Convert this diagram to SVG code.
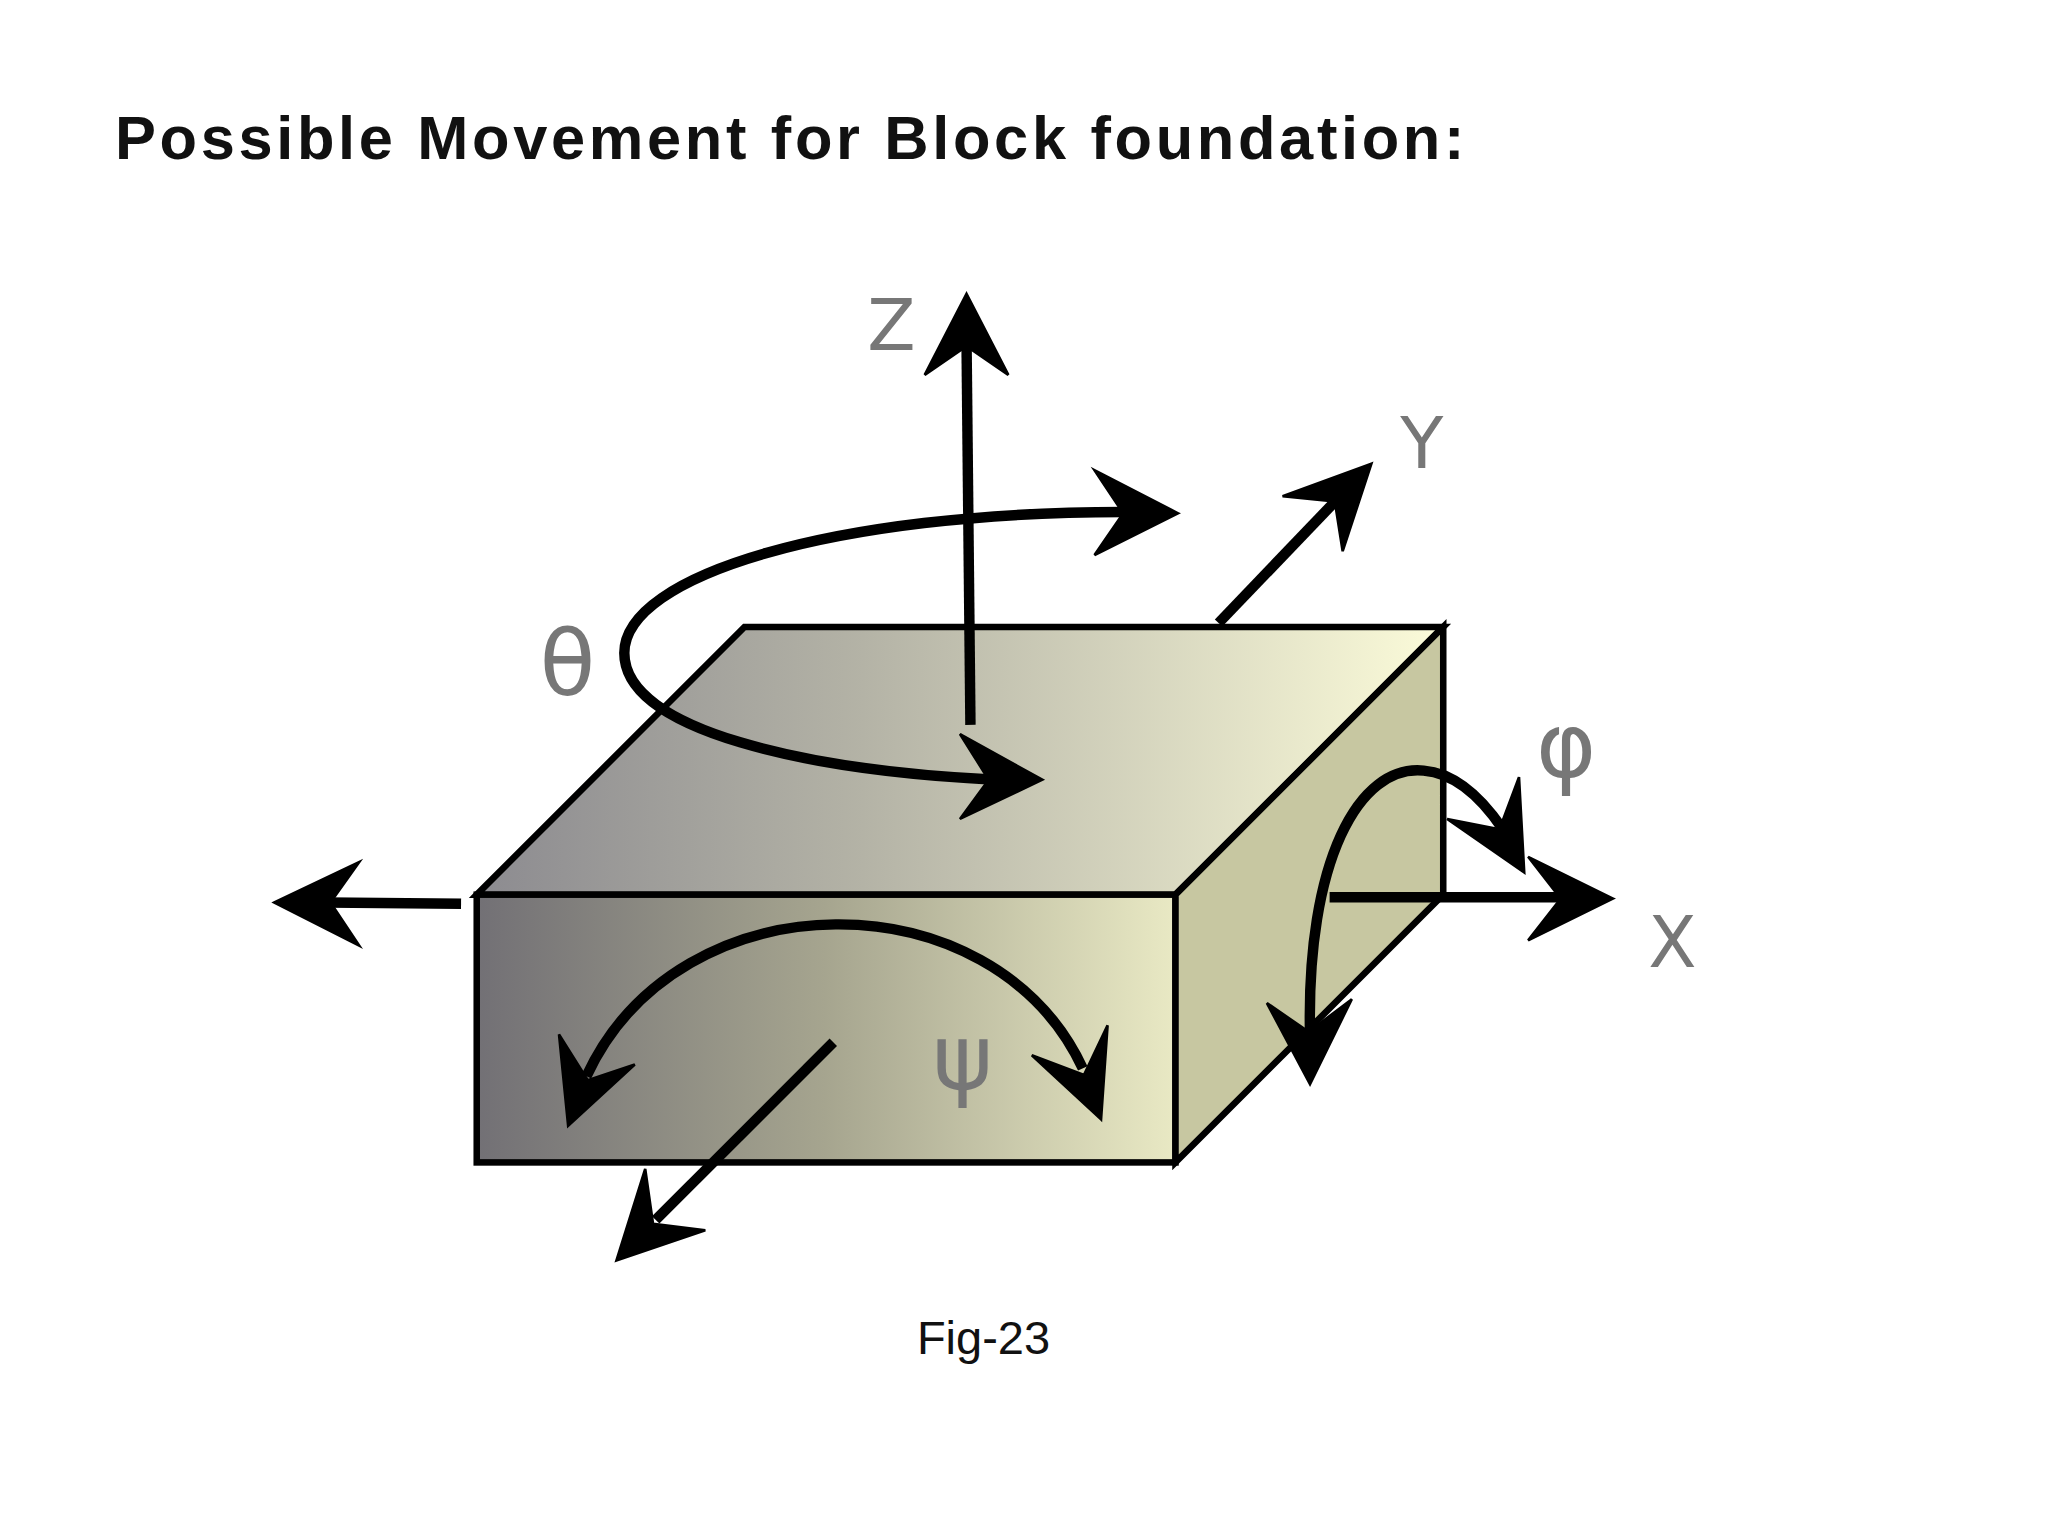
<svg xmlns="http://www.w3.org/2000/svg" width="2048" height="1536" viewBox="0 0 2048 1536">
<style>
.ln{fill:none;stroke:#000;stroke-width:8}
.hd{fill:#000;stroke:#000;stroke-width:2;stroke-linejoin:miter}
.lb{font-family:"DejaVu Sans",sans-serif;fill:#777;font-size:54px}
.gk{font-family:"DejaVu Sans",sans-serif;fill:#777;font-size:70px}
.face{stroke:#000;stroke-width:5;stroke-linejoin:miter}
</style>
<defs>
<linearGradient id="gf" x1="0" x2="1"><stop offset="0" stop-color="#727075"/><stop offset="0.5" stop-color="#a6a58f"/><stop offset="1" stop-color="#e9e9c4"/></linearGradient>
<linearGradient id="gt" x1="0" x2="1"><stop offset="0" stop-color="#8c8b90"/><stop offset="0.4" stop-color="#b4b3a6"/><stop offset="1" stop-color="#fbfbd9"/></linearGradient>
</defs>
<rect width="2048" height="1536" fill="#fff"/>
<g transform="scale(1.3061)">
<text x="88" y="122" font-family="Liberation Sans, Arial, sans-serif" font-weight="bold" font-size="47" letter-spacing="2.8" fill="#111">Possible Movement for Block foundation:</text>
<g id="block">
<polygon class="face" points="365,685 570,480 1105,480 900,685" fill="url(#gt)"/>
<rect class="face" x="365" y="685" width="535" height="205" fill="url(#gf)"/>
<polygon class="face" points="900,685 1105,480 1105,685 900,890" fill="#c7c7a1"/>
</g>
<g id="connectors">
<line class="ln" x1="743" y1="555" x2="740" y2="260"/>
<polygon class="hd" points="740,225 772,287 740,265 708,287"/>
<line class="ln" x1="933" y1="477" x2="1025" y2="381"/>
<polygon class="hd" points="1050,355 982,380 1022,384 1028,422"/>
<line class="ln" x1="1018" y1="687" x2="1198" y2="687"/>
<polygon class="hd" points="1235,688 1170,656 1195,688 1170,720"/>
<line class="ln" x1="353" y1="692" x2="250" y2="691"/>
<polygon class="hd" points="210,691 275,660 253,691 275,724"/>
<line class="ln" x1="638" y1="798" x2="502" y2="934"/>
<polygon class="hd" points="472,965 494,895 500,937 540,942"/>
<path class="ln" d="M860,392 C640,392 478,440 478,500 C478,560 620,590 762,597"/>
<polygon class="hd" points="902,393 838,360 860,393 838,425"/>
<polygon class="hd" points="798,597 735,562 757,597 735,627"/>
<path class="ln" d="M449,824 C520,670 760,670 829,818"/>
<polygon class="hd" points="435,862 428,792 450,827 486,815"/>
<polygon class="hd" points="843,857 790,808 830,823 848,785"/>
<path class="ln" d="M1003,792 C1000,660 1040,585 1090,590 C1115,592 1135,612 1150,634"/>
<polygon class="hd" points="1003,830 970,768 1002,790 1035,765"/>
<polygon class="hd" points="1167,668 1108,627 1148,635 1163,595"/>
</g>
<text class="lb" x="664" y="268">Z</text>
<text class="lb" x="1072" y="358">Y</text>
<text class="lb" x="1262" y="740">X</text>
<text class="gk" x="413" y="532">θ</text>
<text class="gk" x="1176" y="595">φ</text>
<text class="gk" x="714" y="834">ψ</text>
<text x="753" y="1037" text-anchor="middle" font-family="Liberation Sans, Arial, sans-serif" font-size="36" fill="#111">Fig-23</text>
</g>
</svg>
